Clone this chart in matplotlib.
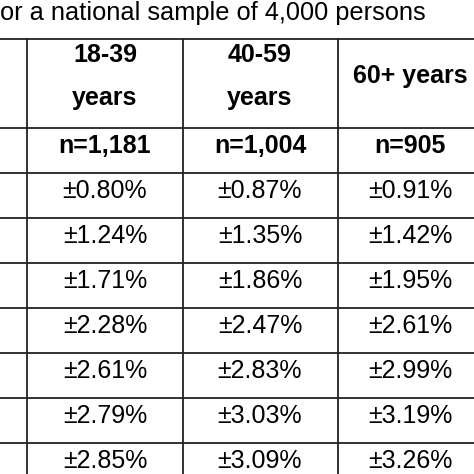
import matplotlib
matplotlib.use("Agg")
import matplotlib.pyplot as plt

title = "or a national sample of 4,000 persons"
headers = ["18-39\nyears", "40-59\nyears", "60+ years"]
sizes = ["n=1,181", "n=1,004", "n=905"]
col1 = ["±0.80%", "±1.24%", "±1.71%", "±2.28%", "±2.61%", "±2.79%", "±2.85%"]
col2 = ["±0.87%", "±1.35%", "±1.86%", "±2.47%", "±2.83%", "±3.03%", "±3.09%"]
col3 = ["±0.91%", "±1.42%", "±1.95%", "±2.61%", "±2.99%", "±3.19%", "±3.26%"]

W = H = 474
fig = plt.figure(figsize=(4.74, 4.74), dpi=100)
ax = fig.add_axes([0, 0, 1, 1])
ax.set_xlim(0, W); ax.set_ylim(H, 0); ax.axis("off")
plt.rcParams['font.family'] = ['Liberation Sans', 'DejaVu Sans']

ax.text(0, 13, title, fontsize=18.3, va="center", ha="left")

vx = [27, 183, 338]
hy = [39, 128, 173, 218, 263, 308, 353, 398, 443]
lw = 1.3
for y in hy:
    ax.plot([0, W], [y, y], color="#222", lw=lw)
for x in vx:
    ax.plot([x, x], [39, H], color="#222", lw=lw)

centers = [105, 260, 410]
for cx, h, s in zip(centers, headers, sizes):
    ax.text(cx, 76, h, fontsize=18, fontweight="bold", ha="center", va="center", linespacing=2.0)
    ax.text(cx, 146, s, fontsize=18, fontweight="bold", ha="center", va="center")
for cx, col in zip(centers, [col1, col2, col3]):
    for i, v in enumerate(col):
        ax.text(cx, 173 + 45 * i + 18, v, fontsize=18, ha="center", va="center")

fig.savefig("out.png", dpi=100)
